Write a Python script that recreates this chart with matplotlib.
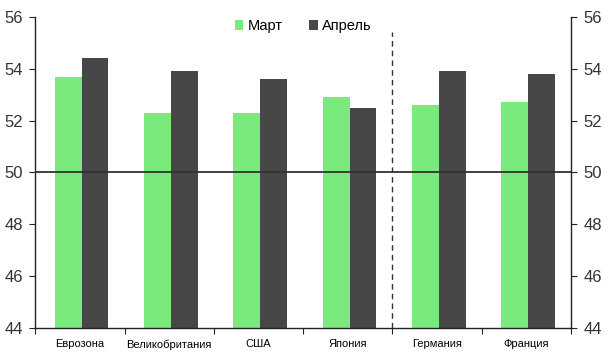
import numpy as np
import matplotlib
matplotlib.use('Agg')
import matplotlib.pyplot as plt

# data
countries = ['Еврозона', 'Великобритания', 'США', 'Япония', 'Германия', 'Франция']
march = [53.7, 52.3, 52.3, 52.9, 52.6, 52.7]
april = [54.4, 53.9, 53.6, 52.5, 53.9, 53.8]
yticks = [44, 46, 48, 50, 52, 54, 56]

plt.rcParams['font.family'] = ['Liberation Sans', 'DejaVu Sans']

fig = plt.figure(figsize=(6.08, 3.53), dpi=100)
ax = fig.add_axes([0.058, 0.071, 0.881, 0.881])

x = np.arange(len(countries))
w = 0.3
ax.bar(x - w / 2 + 0.02, march, width=w, bottom=0, color='#7bea7d', label='Март', zorder=2)
ax.bar(x + w / 2 + 0.02, april, width=w, bottom=0, color='#474747', label='Апрель', zorder=2)

ax.set_xlim(-0.5, len(countries) - 0.5)
ax.set_ylim(44, 56)
ax.set_yticks(yticks)
ax.tick_params(axis='y', labelsize=12, length=4, colors='#222222', labelcolor='#333333',
               left=True, right=True, labelleft=True, labelright=True, pad=5)

# category labels in the middle, ticks at the boundaries
ax.set_xticks(np.arange(-0.5, len(countries), 1.0))
ax.set_xticklabels([])
ax.set_xticks(x, minor=True)
ax.set_xticklabels(countries, minor=True, fontsize=8)
ax.tick_params(axis='x', which='minor', length=0, pad=8)
ax.tick_params(axis='x', which='major', length=4, color='#222222')

ax.spines['top'].set_visible(False)
for s in ['left', 'right', 'bottom']:
    ax.spines[s].set_color('#222222')
    ax.spines[s].set_linewidth(1.0)

ax.axhline(50, color='#333333', lw=1.3, zorder=3)
ax.vlines(3.5, 44, 55.4, colors='#333333', linestyles=(0, (4, 3)), lw=1.0, zorder=3)

ax.legend(loc='upper center', bbox_to_anchor=(0.5, 1.035), ncol=2, frameon=False,
          fontsize=10.5, handlelength=0.6, handleheight=0.6, handletextpad=0.3,
          columnspacing=1.8)

plt.savefig('out.png', dpi=100)
